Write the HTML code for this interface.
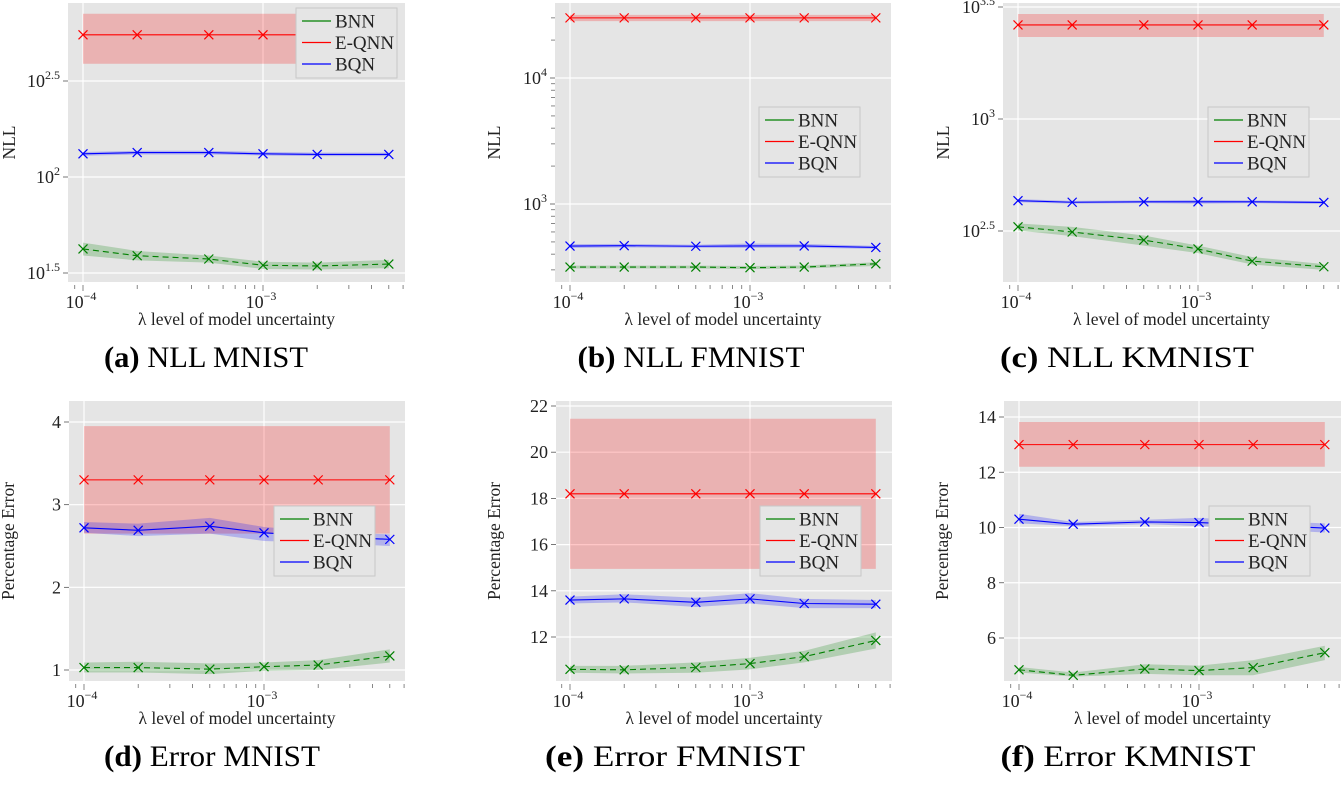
<!DOCTYPE html>
<html><head><meta charset="utf-8"><style>
body{margin:0;background:#fff;}
svg{display:block;}
svg text{font-family:"Liberation Serif","DejaVu Serif",serif;}
</style></head><body>
<svg id="fig" width="1344" height="785" viewBox="0 0 1344 785" font-family="Liberation Serif, serif"></svg>
<script>
const xVals=[1e-4,2e-4,5e-4,1e-3,2e-3,5e-3];
const seriesNames=["BNN","E-QNN","BQN"];
// (a) NLL MNIST
const aBnn=[42.2,38.9,37.4,34.7,34.4,35.2];
const aBnnLo=[39,36.8,35.8,33.2,33,33.5];
const aBnnHi=[45.5,41.2,39,36.2,35.8,37];
const aEqnn=[550,550,550,550,550,550];
const aEqnnLo=[389,389,389,389,389,389];
const aEqnnHi=[708,708,708,708,708,708];
const aBqn=[132,134,134,132,131,131];
const aBqnLo=[129,131,131,129.5,128.5,128.5];
const aBqnHi=[135,137,137,135,134,134];
// (b) NLL FMNIST
const bBnn=[316,316,316,312,316,335];
const bBnnLo=[308,308,308,304,308,322];
const bBnnHi=[324,324,324,322,325,345];
const bEqnn=[30000,30000,30000,30000,30000,30000];
const bEqnnLo=[28300,28300,28300,28300,28300,28300];
const bEqnnHi=[31700,31700,31700,31700,31700,31700];
const bBqn=[464,467,462,465,465,452];
const bBqnLo=[448,452,450,448,450,440];
const bBqnHi=[480,482,475,486,482,465];
// (c) NLL KMNIST
const cBnn=[330,313,288,263,232,219];
const cBnnLo=[318,300,272,252,224,212];
const cBnnHi=[342,330,302,272,242,225];
const cEqnn=[2630,2630,2630,2630,2630,2630];
const cEqnnLo=[2323,2323,2323,2323,2323,2323];
const cEqnnHi=[2944,2944,2944,2944,2944,2944];
const cBqn=[432,425,427,427,427,424];
const cBqnLo=[425,419,421,419,421,418];
const cBqnHi=[439,431,433,435,433,430];
// (d) Error MNIST
const dBnn=[1.03,1.03,1.01,1.04,1.06,1.17];
const dBnnLo=[0.97,0.97,0.95,0.99,1.0,1.09];
const dBnnHi=[1.09,1.1,1.08,1.09,1.12,1.25];
const dEqnn=[3.3,3.3,3.3,3.3,3.3,3.3];
const dEqnnLo=[2.65,2.65,2.65,2.65,2.65,2.65];
const dEqnnHi=[3.95,3.95,3.95,3.95,3.95,3.95];
const dBqn=[2.72,2.69,2.74,2.66,2.62,2.58];
const dBqnLo=[2.66,2.62,2.65,2.56,2.54,2.5];
const dBqnHi=[2.79,2.77,2.84,2.73,2.68,2.64];
// (e) Error FMNIST
const eBnn=[10.6,10.58,10.68,10.85,11.15,11.85];
const eBnnLo=[10.45,10.42,10.45,10.6,10.9,11.5];
const eBnnHi=[10.75,10.75,10.9,11.1,11.4,12.2];
const eEqnn=[18.2,18.2,18.2,18.2,18.2,18.2];
const eEqnnLo=[14.95,14.95,14.95,14.95,14.95,14.95];
const eEqnnHi=[21.45,21.45,21.45,21.45,21.45,21.45];
const eBqn=[13.6,13.65,13.5,13.65,13.45,13.42];
const eBqnLo=[13.45,13.5,13.3,13.45,13.25,13.25];
const eBqnHi=[13.75,13.85,13.7,13.9,13.65,13.6];
// (f) Error KMNIST
const fBnn=[4.85,4.65,4.88,4.82,4.93,5.47];
const fBnnLo=[4.75,4.6,4.7,4.65,4.65,5.2];
const fBnnHi=[4.95,4.75,5.05,5.0,5.2,5.72];
const fEqnn=[13.0,13.0,13.0,13.0,13.0,13.0];
const fEqnnLo=[12.2,12.2,12.2,12.2,12.2,12.2];
const fEqnnHi=[13.82,13.82,13.82,13.82,13.82,13.82];
const fBqn=[10.3,10.12,10.2,10.18,10.1,9.98];
const fBqnLo=[10.15,10.05,10.12,10.05,9.95,9.82];
const fBqnHi=[10.5,10.2,10.28,10.35,10.25,10.15];
// tick labels
const nllTicksA=[[1.5,"1.5"],[2,"2"],[2.5,"2.5"]];
const nllTicksB=[[3,"3"],[4,"4"]];
const nllTicksC=[[2.5,"2.5"],[3,"3"],[3.5,"3.5"]];
const errTicksD=[1,2,3,4];
const errTicksE=[12,14,16,18,20,22];
const errTicksF=[6,8,10,12,14];
const captions=[["(a)","NLL MNIST"],["(b)","NLL FMNIST"],["(c)","NLL KMNIST"],["(d)","Error MNIST"],["(e)","Error FMNIST"],["(f)","Error KMNIST"]];

const NS="http://www.w3.org/2000/svg";
const svg=document.getElementById('fig');
const FF='Liberation Serif, DejaVu Serif, serif';
function mk(tag,attrs,parent,text){const e=document.createElementNS(NS,tag);for(const k in attrs)e.setAttribute(k,attrs[k]);if(tag==='text')e.setAttribute('font-family',FF);if(text!==undefined)e.textContent=text;(parent||svg).appendChild(e);return e;}
const colors={"BNN":"#008000","E-QNN":"#ff0000","BQN":"#0000ff"};
const fills={"BNN":"rgba(0,128,0,0.22)","E-QNN":"rgba(255,0,0,0.22)","BQN":"rgba(0,0,255,0.22)"};

const panels=[
 {id:"a",L:68,R:405,T:3,B:282,x4:83,log:true,ref1:[Math.pow(10,2.5),81],ref2:[100,177],ticks:nllTicksA,ylab:"NLL",ylx:9,series:[[aBnn,aBnnLo,aBnnHi],[aEqnn,aEqnnLo,aEqnnHi],[aBqn,aBqnLo,aBqnHi]],leg:[296,8],minorY:false,cap:[206,204]},
 {id:"b",L:555,R:891,T:3,B:282,x4:570,log:true,ref1:[10000,78],ref2:[1000,204],ticks:nllTicksB,ylab:"NLL",ylx:494,series:[[bBnn,bBnnLo,bBnnHi],[bEqnn,bEqnnLo,bEqnnHi],[bBqn,bBqnLo,bBqnHi]],leg:[759,107],minorY:true,cap:[691,227]},
 {id:"c",L:1003,R:1340,T:3,B:282,x4:1018,log:true,ref1:[Math.pow(10,3.5),7],ref2:[Math.pow(10,2.5),231],ticks:nllTicksC,ylab:"NLL",ylx:943,series:[[cBnn,cBnnLo,cBnnHi],[cEqnn,cEqnnLo,cEqnnHi],[cBqn,cBqnLo,cBqnHi]],leg:[1208,107],minorY:false,cap:[1127,254]},
 {id:"d",L:69,R:405,T:401,B:681,x4:84,log:false,ref1:[4,422],ref2:[1,670],ticks:errTicksD,ylab:"Percentage Error",ylx:8,series:[[dBnn,dBnnLo,dBnnHi],[dEqnn,dEqnnLo,dEqnnHi],[dBqn,dBqnLo,dBqnHi]],leg:[274,506],cap:[212,216]},
 {id:"e",L:556,R:892,T:401,B:681,x4:570,log:false,ref1:[22,406],ref2:[12,637],ticks:errTicksE,ylab:"Percentage Error",ylx:494,series:[[eBnn,eBnnLo,eBnnHi],[eEqnn,eEqnnLo,eEqnnHi],[eBqn,eBqnLo,eBqnHi]],leg:[760,506],cap:[675,260]},
 {id:"f",L:1004,R:1341,T:401,B:681,x4:1019,log:false,ref1:[14,417],ref2:[6,638],ticks:errTicksF,ylab:"Percentage Error",ylx:942,series:[[fBnn,fBnnLo,fBnnHi],[fEqnn,fEqnnLo,fEqnnHi],[fBqn,fBqnLo,fBqnHi]],leg:[1209,506],cap:[1128,255]}
];
const DEC=180;

panels.forEach((p,pi)=>{
 const g=mk('g',{});
 
 
 const xs=v=>p.x4+(Math.log10(v)+4)*DEC;
 const tf=v=>p.log?Math.log10(v):v;
 const k=(p.ref2[1]-p.ref1[1])/(tf(p.ref2[0])-tf(p.ref1[0]));
 const ys=v=>p.ref1[1]+(tf(v)-tf(p.ref1[0]))*k;
 const bg=mk('rect',{x:p.L,y:p.T,width:p.R-p.L,height:p.B-p.T,fill:'#e5e5e5'},g);
 
 
 p.ticks.forEach(t=>{
  const val=p.log?Math.pow(10,t[0]):t;
  const y=ys(val);
  mk('line',{x1:p.L,x2:p.R,y1:y,y2:y,stroke:'#fff','stroke-width':1.2},g);
  mk('line',{x1:p.L-5,x2:p.L,y1:y,y2:y,stroke:'#555','stroke-width':0.8},g);
  const tx=mk('text',{x:p.L-8,y:y+6,'text-anchor':'end','font-size':18,fill:'#222'},g);
  
  
  if(p.log){tx.textContent='10';mk('tspan',{'font-size':12,dy:-8},tx,t[1]);}else tx.textContent=t;
 });
 if(p.minorY){
  for(let d=2;d<=5;d++)for(let m=2;m<=9;m++){const v=m*Math.pow(10,d);const y=ys(v);if(y>p.T&&y<p.B)mk('line',{x1:p.L-4,x2:p.L,y1:y,y2:y,stroke:'#555','stroke-width':0.7},g);}
 }
 [1e-4,1e-3].forEach((v,i)=>{
  const x=xs(v);
  mk('line',{x1:x,x2:x,y1:p.T,y2:p.B,stroke:'#fff','stroke-width':1.2},g);
  const tx=mk('text',{x:x-2,y:p.B+26,'text-anchor':'middle','font-size':18,fill:'#222'},g,'10');
  
  
  mk('tspan',{'font-size':12,dy:-8},tx,i==0?'\u22124':'\u22123');
 });
 for(let d=-5;d<=-2;d++)for(let m=1;m<=9;m++){const x=xs(m*Math.pow(10,d));if(x>=p.L-1&&x<=p.R+1)mk('line',{x1:x,x2:x,y1:p.B+3,y2:p.B+(m==1?9:7),stroke:'#555','stroke-width':0.7},g);}
 const xl=mk('text',{x:(p.L+p.R)/2,y:p.B+43,'text-anchor':'middle','font-size':17.5,fill:'#222'},g,'\u03bb level of model uncertainty');
 
 
 const yc=(p.T+p.B)/2;
 const yl=mk('text',{x:p.ylx,y:yc,'text-anchor':'middle','font-size':17.5,fill:'#222',transform:`rotate(-90 ${p.ylx} ${yc}) translate(0 6)`},g,p.ylab);
 
 
 p.series.forEach((s,si)=>{
  const name=seriesNames[si];
  const [vals,lo,hi]=s;
  let d='M'+xVals.map((x,i)=>xs(x)+','+ys(hi[i])).join('L')+'L'+xVals.map((x,i)=>xs(x)+','+ys(lo[i])).reverse().join('L')+'Z';
  const band=mk('path',{d:d,fill:fills[name],stroke:'none'},g);
  
  
  const line=mk('polyline',{points:xVals.map((x,i)=>xs(x)+','+ys(vals[i])).join(' '),fill:'none',stroke:colors[name],'stroke-width':1.1,'stroke-dasharray':name=='BNN'?'6,4':'none'},g);
  
  
  xVals.forEach((x,i)=>{
   const cx=xs(x),cy=ys(vals[i]),r=4.5;
   const m=mk('path',{d:`M${cx-r},${cy-r}L${cx+r},${cy+r}M${cx-r},${cy+r}L${cx+r},${cy-r}`,stroke:colors[name],'stroke-width':1.2},g);
   
   
  });
 });
 const lg=mk('g',{},g);
 
 
 const [lx,ly]=p.leg;
 mk('rect',{x:lx,y:ly,width:101,height:70,fill:'#e5e5e5',stroke:'#c8c8c8','stroke-width':1},lg);
 seriesNames.forEach((n,i)=>{
  const yy=ly+13+i*21.5;
  mk('line',{x1:lx+6,x2:lx+35,y1:yy,y2:yy,stroke:colors[n],'stroke-width':1.2},lg);
  const t=mk('text',{x:lx+39,y:yy+6.5,'font-size':19,fill:'#222'},lg,n);
  
  
 });
 const cy=p.T<100?367:766;
 const cap=mk('text',{x:p.cap[0]-p.cap[1]/2,y:cy,'font-size':30,fill:'#000',textLength:p.cap[1],lengthAdjust:'spacingAndGlyphs'},svg);
 
 
 mk('tspan',{'font-weight':'bold'},cap,captions[pi][0]);
 mk('tspan',{},cap,' '+captions[pi][1]);
});
</script>
</body></html>
